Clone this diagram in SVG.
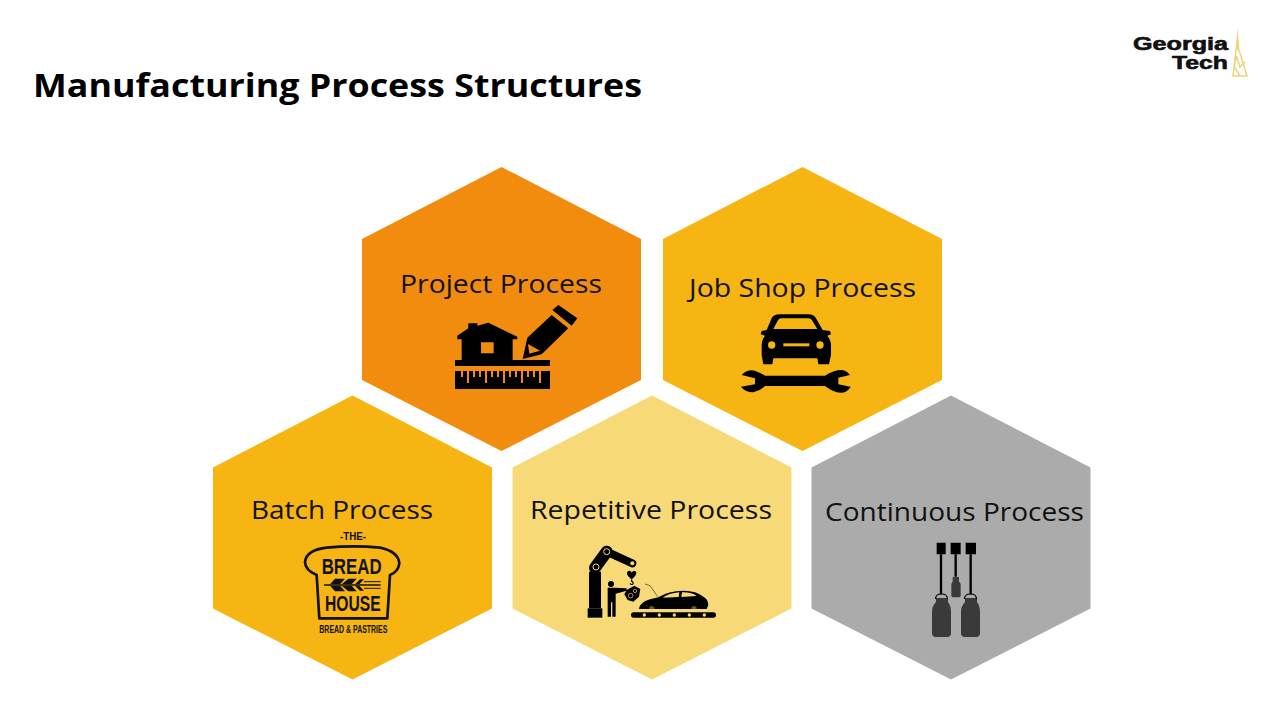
<svg xmlns="http://www.w3.org/2000/svg" width="1280" height="720" viewBox="0 0 1280 720">
<style>
text{font-family:"Open Sans","Noto Sans","Liberation Sans",sans-serif}
.t{font-size:33px;font-weight:700;fill:#000}
.l{font-size:26px;fill:#111}
.n{font-family:"Liberation Sans Narrow","Liberation Sans",sans-serif;font-weight:700;fill:#111}
.g{font-family:"Liberation Sans",sans-serif;font-size:18px;font-weight:700;fill:#111;stroke:#111;stroke-width:.6px}
.k{fill:#000}
.d{fill:#3a3a3a}
</style>
<defs><polygon id="hex" points="0,-142 139.500,-70 139.500,71 0,142 -139.500,71 -139.500,-70"/></defs>
<rect width="1280" height="720" fill="#fff"/>
<text id="title" class="t" x="33" y="97" textLength="609" lengthAdjust="spacingAndGlyphs">Manufacturing Process Structures</text>
<g id="logo">
<text class="g" x="1133" y="50" textLength="95" lengthAdjust="spacingAndGlyphs">Georgia</text>
<text class="g" x="1172" y="69" textLength="56" lengthAdjust="spacingAndGlyphs">Tech</text>
<path d="M1237.500 28L1239.500 50H1235.500Z" fill="#eed27a"/>
<path d="M1236,50L1233,76H1247L1239,50M1236.500,56L1240,67L1245,62M1236.500,56L1234,66L1240,76" fill="none" stroke="#eed27a" stroke-width="1.500"/>
</g>
<g id="connectors"/>
<g id="project">
<use href="#hex" x="501.500" y="309" fill="#F28C0F"/>
<text class="l" x="400" y="293" textLength="202" lengthAdjust="spacingAndGlyphs">Project Process</text>
<g transform="translate(440 295) scale(.3333)">
<path class="k" fill-rule="evenodd" d="M52,122L85,100V85H112V92L145,83L232,125V133H218V195H65V133H52ZM123,142V175H161V142Z"/>
<path class="k" fill-rule="evenodd" d="M248,192L262,128L335,60L385,100L305,178ZM264,147L268,176L300,167Z"/>
<path class="k" d="M337,45L355,30L412,70L395,92Z"/>
<rect class="k" x="45" y="195" width="285" height="18"/>
</g>
<rect class="k" x="455" y="371" width="95" height="18"/>
<path fill="#F28C0F" d="M461,370h2v7h-2zM467,370h2v13h-2zM473,370h2v7h-2zM479,370h2v7h-2zM485,370h2v13h-2zM491,370h2v7h-2zM497,370h2v7h-2zM503,370h2v13h-2zM509,370h2v7h-2zM515,370h2v7h-2zM521,370h2v13h-2zM527,370h2v7h-2zM533,370h2v7h-2zM539,370h2v13h-2z"/>
</g>
<g id="job-shop">
<use href="#hex" x="802.500" y="309" fill="#F6B512"/>
<text class="l" x="689" y="297" textLength="227" lengthAdjust="spacingAndGlyphs">Job Shop Process</text>
<g transform="translate(730 305) scale(.3333)">
<path class="k" fill-rule="evenodd" d="M110,75L125,40Q130,28 150,28H235Q252,28 258,40L278,75L300,78L303,88L292,92Q303,105 303,120V150L297,178H265L262,160H130L127,178H100L95,150V120Q95,105 105,92L92,88L95,78ZM130,72H262L247,47Q243,40 235,40H155Q146,40 143,47Z"/>
<circle cx="125" cy="120" r="11" fill="#F6B512"/><circle cx="270" cy="120" r="11" fill="#F6B512"/>
<rect x="160" y="115" width="78" height="9" fill="#F6B512"/>
<path class="k" d="M35,210Q50,192 75,197Q95,205 105,212H285Q310,195 335,195Q350,197 360,210L325,218V238L362,245Q350,268 320,262Q300,255 285,243H105Q90,258 70,262Q45,262 33,245L75,238V220Z"/>
</g>
</g>
<g id="batch">
<use href="#hex" x="352.500" y="537.500" fill="#F6B512"/>
<text class="l" x="251" y="519" textLength="182" lengthAdjust="spacingAndGlyphs">Batch Process</text>
<g transform="translate(290 525) scale(.3333)">
<text class="n" x="150" y="45" font-size="32" textLength="78" lengthAdjust="spacingAndGlyphs">-THE-</text>
<path fill="none" stroke="#111" stroke-width="8" stroke-linejoin="round" d="M80,150Q45,135 45,110Q50,75 110,68Q190,60 270,68Q325,80 328,115Q325,140 300,150L292,280H88Z"/>
<text class="n" x="95" y="148" font-size="66" textLength="180" lengthAdjust="spacingAndGlyphs">BREAD</text>
<path d="M102,180H272" stroke="#111" stroke-width="4"/>
<path fill="#111" d="M135,161H165L150,178H120ZM175,161H200L185,178H155ZM135,199H165L150,182H120ZM175,199H200L185,182H155ZM210,163H222L208,178H195ZM210,197H222L208,182H195Z"/>
<path d="M222,170H272M222,190H272" stroke="#111" stroke-width="3"/>
<text class="n" x="105" y="258" font-size="66" textLength="167" lengthAdjust="spacingAndGlyphs">HOUSE</text>
<text class="n" x="88" y="325" font-size="30" textLength="204" lengthAdjust="spacingAndGlyphs">BREAD &amp; PASTRIES</text>
</g>
</g>
<g id="repetitive">
<use href="#hex" x="652" y="537.500" fill="#F8D978"/>
<text class="l" x="530" y="519" textLength="242" lengthAdjust="spacingAndGlyphs">Repetitive Process</text>
<g transform="translate(580 540) scale(.3333)">
<path class="k" d="M155,118C135,103 140,92 148,92C152,92 155,96 155,98C156,95 160,92 164,93C172,95 172,105 155,118Z"/>
<path fill="none" stroke="#000" stroke-width="3.500" d="M155,118V124Q162,128 158,133Q153,135 150,130"/>
<path d="M195,132L210,137L233,170" fill="none" stroke="#000" stroke-width="1.500"/>
<path class="k" fill-rule="evenodd" d="M177,207Q178,188 210,178L235,172Q265,152 310,152Q350,152 370,170Q385,178 385,195L380,207ZM248,173L296,171L298,157Q265,160 248,173ZM304,171L350,168Q335,156 306,157Z"/>
<circle cx="215" cy="206" r="8" fill="#F8D978" opacity=".4"/><circle cx="342" cy="206" r="8" fill="#F8D978" opacity=".4"/>
<rect class="k" x="153" y="217" width="255" height="16" rx="8"/>
<g fill="#F8D978"><circle cx="193" cy="225" r="5"/><circle cx="238" cy="225" r="5"/><circle cx="283" cy="225" r="5"/><circle cx="328" cy="225" r="5"/><circle cx="373" cy="225" r="5"/></g>
</g>
<g transform="translate(585 545) scale(.3333)">
<rect class="k" x="8" y="190" width="44" height="28"/>
<path class="k" d="M12,80H48V190H12Z"/>
<path d="M30,68L65,20" stroke="#000" stroke-width="36" stroke-linecap="round"/>
<path d="M65,20L142,55" stroke="#000" stroke-width="24" stroke-linecap="round"/>
<circle cx="33" cy="66" r="9" fill="none" stroke="#F8D978" stroke-width="3"/>
<circle cx="65" cy="20" r="9" fill="none" stroke="#F8D978" stroke-width="3"/>
<circle cx="142" cy="55" r="6" fill="#F8D978"/>
<circle class="k" cx="78" cy="117" r="9"/>
<path class="k" d="M68,128H88L125,130V137L92,146V215H82V172H78V215H68Z"/>
<path class="k" d="M125,135L148,122L166,132L162,155L145,170L128,165L118,148Z"/>
<circle cx="137" cy="152" r="7" fill="none" stroke="#F8D978" stroke-width="2"/>
<circle cx="150" cy="138" r="5" fill="none" stroke="#F8D978" stroke-width="2"/>
</g>
</g>
<g id="continuous">
<use href="#hex" x="951" y="537.500" fill="#ABABAB"/>
<text class="l" x="825" y="521" textLength="259" lengthAdjust="spacingAndGlyphs">Continuous Process</text>
<g transform="translate(915 535) scale(.3333)">
<path class="k" d="M65,23h27v35h-27zM107,23h30v35h-30zM152,23h31v35h-31z"/>
<path d="M78,58V178M122,58V125M167,58V178" stroke="#000" stroke-width="7"/>
<path class="d" d="M113,126H132V140Q137,143 137,150V182Q137,187 132,187H114Q109,187 109,182V150Q109,143 113,140Z"/>
</g>
<path class="d" d="M936,598H948V602Q951,606 951,612V633Q951,637 947,637H936Q932,637 932,633V612Q932,606 936,602Z"/>
<path class="d" d="M965,598H977V602Q980,606 980,612V633Q980,637 976,637H965Q961,637 961,633V612Q961,606 965,602Z"/>
<path fill="none" stroke="#000" stroke-width="1.200" d="M935.500,599Q935.500,594 941.500,594Q947.500,594 947.500,599M964.500,599Q964.500,594 970.500,594Q976.500,594 976.500,599"/>
</g>
</svg>
